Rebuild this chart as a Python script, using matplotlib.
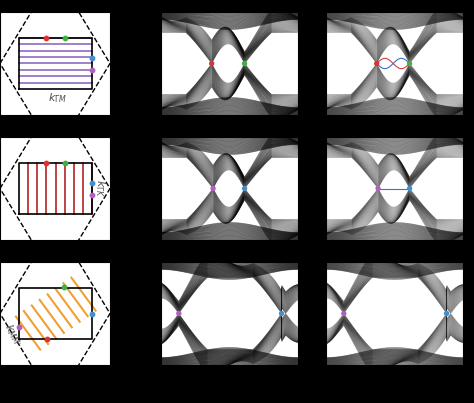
import numpy as np
import matplotlib
matplotlib.use("Agg")
import matplotlib.pyplot as plt

# cut-line colours and labels for the three rows
cut_colors = ["#8e6bbf", "#b22222", "#f0a030"]
cut_labels = [r"$k_{\Gamma M}$", r"$k_{\Gamma K}$", r"$k_{MM'}$"]
# touching points (fraction of k-axis) for each row
touch = [(0.37, 0.61), (0.38, 0.61), (0.13, 0.88)]
touch_cols = [("#e03030", "#40b040"), ("#b060c0", "#4090d0"), ("#b060c0", "#4090d0")]
# lens heights (side, centre)
lens_h = [(0.6, 0.38), (0.6, 0.36), (0.2, 0.7)]
# BZ dots per row: (x, y, colour)
dots = [
    [(0.42, 0.75, "#e03030"), (0.59, 0.75, "#40b040"), (0.84, 0.55, "#4090d0"), (0.84, 0.44, "#b060c0")],
    [(0.42, 0.75, "#e03030"), (0.59, 0.75, "#40b040"), (0.84, 0.55, "#4090d0"), (0.84, 0.44, "#b060c0")],
    [(0.43, 0.25, "#e03030"), (0.58, 0.76, "#40b040"), (0.84, 0.5, "#4090d0"), (0.17, 0.37, "#b060c0")],
]
n_bands = 45

fig = plt.figure(figsize=(4.74, 4.03), dpi=100, facecolor="black")
W, H = 474.0, 403.0
rows_y = [12, 137, 262]
ph = 103

def add_ax(x0, x1, y0):
    return fig.add_axes([x0 / W, 1 - (y0 + ph) / H, (x1 - x0) / W, ph / H])

hexx = [0, 0.33, 0.67, 1, 0.67, 0.33, 0]
hexy = [0.5, 1.08, 1.08, 0.5, -0.08, -0.08, 0.5]

for r, y0 in enumerate(rows_y):
    ax = add_ax(0, 110, y0)
    ax.set_xlim(0, 1); ax.set_ylim(0, 1)
    ax.plot(hexx, hexy, "k--", lw=1)
    ax.plot([0.17, 0.84, 0.84, 0.17, 0.17], [0.25, 0.25, 0.75, 0.75, 0.25], "k-", lw=1.2, zorder=3)
    c = cut_colors[r]
    if r == 0:
        for yy in np.linspace(0.25, 0.75, 9)[1:]:
            ax.plot([0.17, 0.84], [yy, yy], color=c, lw=1.2)
        ax.text(0.52, 0.13, cut_labels[r], ha="center", fontsize=8, color="0.3")
    elif r == 1:
        for xx in np.linspace(0.17, 0.84, 9)[1:]:
            ax.plot([xx, xx], [0.25, 0.75], color=c, lw=1.2)
        ax.text(0.91, 0.5, cut_labels[r], rotation=-90, ha="center", va="center", fontsize=8, color="0.3")
    else:
        for i in range(8):
            x0 = 0.145 + i * 0.072
            ya = 0.47 + i * 0.054
            ax.plot([x0, x0 + 0.22], [ya, ya - 0.32], color=c, lw=1.5)
        ax.text(0.12, 0.2, cut_labels[r], rotation=-60, ha="center", fontsize=8, color="0.3")
    for x, y, cc in dots[r]:
        ax.scatter([x], [y], s=10, c=cc, zorder=5)
    ax.set_xticks([]); ax.set_yticks([])

    for col, (x0, x1) in enumerate([(161, 298), (326, 463)]):
        ax = add_ax(x0, x1, y0)
        k = np.linspace(0, 1, 400)
        k1, k2 = touch[r]
        hs, hc = lens_h[r]
        gap = np.where(k < k1, hs * np.minimum(1, 1.4 * np.sin(np.pi * (k1 - k) / (2 * k1))),
              np.where(k > k2, hs * np.minimum(1, 1.4 * np.sin(np.pi * (k - k2) / (2 * (1 - k2)))),
                       hc * np.sin(np.pi * (k - k1) / (k2 - k1))))
        if r == 2:
            gap = np.where((k > k1) & (k < k2), hc * np.minimum(1, 1.3 * np.sin(np.pi * (k - k1) / (k2 - k1))),
                           0.3 * np.abs(np.sin(np.pi * (k - k1) / (2 * 0.13))))
        for n in range(n_bands):
            q = n / n_bands
            e = gap + q * (0.35 + 0.12 * np.cos(4 * np.pi * k + 2 * q))
            top = 1.05 - q * (0.3 + 0.1 * np.cos(2 * np.pi * (k - 0.5)))
            for s in (1, -1):
                ax.plot(k, s * e, color="black", lw=0.4, alpha=0.3 if col else 0.4)
                ax.plot(k, s * top, color="black", lw=0.4, alpha=0.45 if col else 0.55)
        ax.scatter([k1, k2], [0, 0], s=8, c=list(touch_cols[r]), zorder=5)
        if col == 1 and r == 0:
            kk = np.linspace(k1, k2, 100)
            ax.plot(kk, 0.1 * np.sin(2 * np.pi * (kk - k1) / (k2 - k1)), color="#d04040", lw=0.8)
            ax.plot(kk, -0.1 * np.sin(2 * np.pi * (kk - k1) / (k2 - k1)), color="#4070c0", lw=0.8)
        if col == 1 and r == 1:
            ax.plot([k1, k2], [0, 0], color="#4070c0", lw=0.8)
        ax.set_xlim(0, 1); ax.set_ylim(-1.0, 1.0)
        ax.set_facecolor("white")
        ax.set_xticks([]); ax.set_yticks([])

fig.savefig("out.png", dpi=100, facecolor="black")
